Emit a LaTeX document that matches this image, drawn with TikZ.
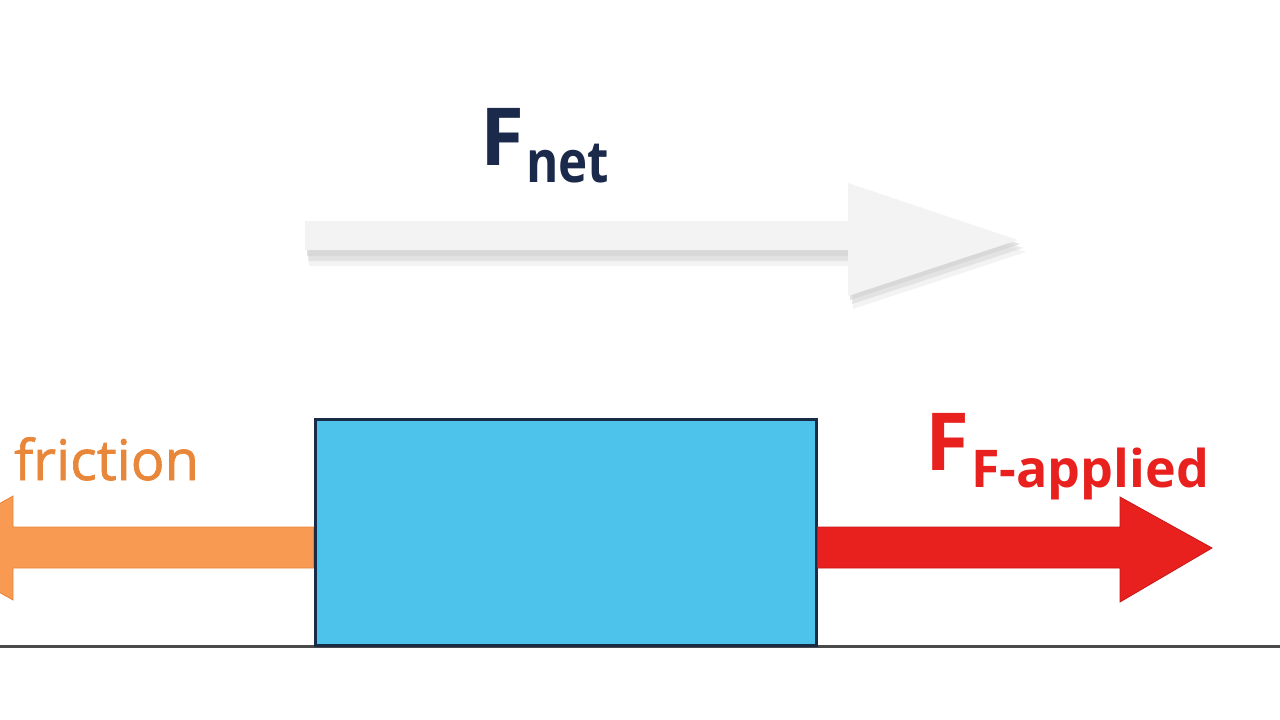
\documentclass[tikz,border=0pt]{standalone}
\usepackage{fontspec}
\setmainfont{Open Sans}
\newfontfamily\condbold[FakeStretch=0.85]{Open Sans Bold}
\newfontfamily\medium[FakeBold=1.2]{Open Sans}
\definecolor{navy}{HTML}{1B2A4A}
\definecolor{blockblue}{HTML}{4DC3EC}
\definecolor{blockedge}{HTML}{1A2B45}
\definecolor{orangefill}{HTML}{F89A52}
\definecolor{orangeedge}{HTML}{E8843A}
\definecolor{orangetext}{HTML}{E8873A}
\definecolor{redfill}{HTML}{E8201E}
\definecolor{rededge}{HTML}{C81818}
\definecolor{ghost}{HTML}{F3F3F3}
\definecolor{groundgray}{HTML}{4A4A4A}
\begin{document}
\begin{tikzpicture}[x=1pt,y=-1pt,
  lbl/.style={inner sep=0pt, anchor=base west},
  blockstyle/.style={draw=blockedge, line width=3pt, fill=blockblue},
  frictionarrow/.style={fill=orangefill, draw=orangeedge, line width=0.8pt},
  appliedarrow/.style={fill=redfill, draw=rededge, line width=0.8pt},
  netarrow/.style={fill=ghost, draw=none},
  netshadow/.style={fill=black!18, draw=none},
  groundline/.style={draw=groundgray, line width=3pt}]
\useasboundingbox (0,0) rectangle (1280,720);
\fill[white] (0,0) rectangle (1280,720);

% net force arrow (pale, with soft shadow)
\fill[netshadow, opacity=0.25] (309,234) -- (853,234) -- (853,197) -- (1026,252) -- (853,309) -- (853,266) -- (309,266) -- cycle;
\fill[netshadow, opacity=0.45] (308,231) -- (852,231) -- (852,193) -- (1023,248) -- (852,304) -- (852,261) -- (308,261) -- cycle;
\fill[netshadow, opacity=0.6] (307,227) -- (850,227) -- (850,189) -- (1020,244) -- (850,300) -- (850,256) -- (307,256) -- cycle;
\fill[netarrow] (305,221) -- (848,221) -- (848,183) -- (1018,240) -- (848,296) -- (848,250) -- (305,250) -- cycle;

% ground
\coordinate (gl) at (0,646);
\coordinate (gr) at (1280,646);
\draw[groundline] (gl) -- (gr);

% block
\node[blockstyle, minimum width=501pt, minimum height=226pt, inner sep=0pt] (block) at (565.5,532) {};

% friction arrow
\draw[frictionarrow] (block.west |- 0,527) -- (13,527) -- (13,496) -- (-79,548) -- (13,600) -- (13,568) -- (block.west |- 0,568) -- cycle;

% applied arrow
\draw[appliedarrow] (block.east |- 0,527) -- (1120,527) -- (1120,497) -- (1212,548) -- (1120,602) -- (1120,568) -- (block.east |- 0,568) -- cycle;

% labels
\node[lbl, text=orangetext, font=\fontsize{56}{60}\medium] (friction) at (14,480) {friction};
\node[lbl, text=navy, font=\fontsize{80}{90}\selectfont\bfseries] (fnet) at (480,165) {F};
\node[lbl, text=navy, font=\condbold\fontsize{58}{60}\selectfont] (fnetsub) at (526,182) {net};
\node[lbl, text=redfill, font=\fontsize{80}{90}\selectfont\bfseries] (fapp) at (925,470) {F};
\node[lbl, text=redfill, font=\fontsize{52}{56}\selectfont\bfseries] (fappsub) at (971,487) {F-applied};
\end{tikzpicture}
\end{document}
